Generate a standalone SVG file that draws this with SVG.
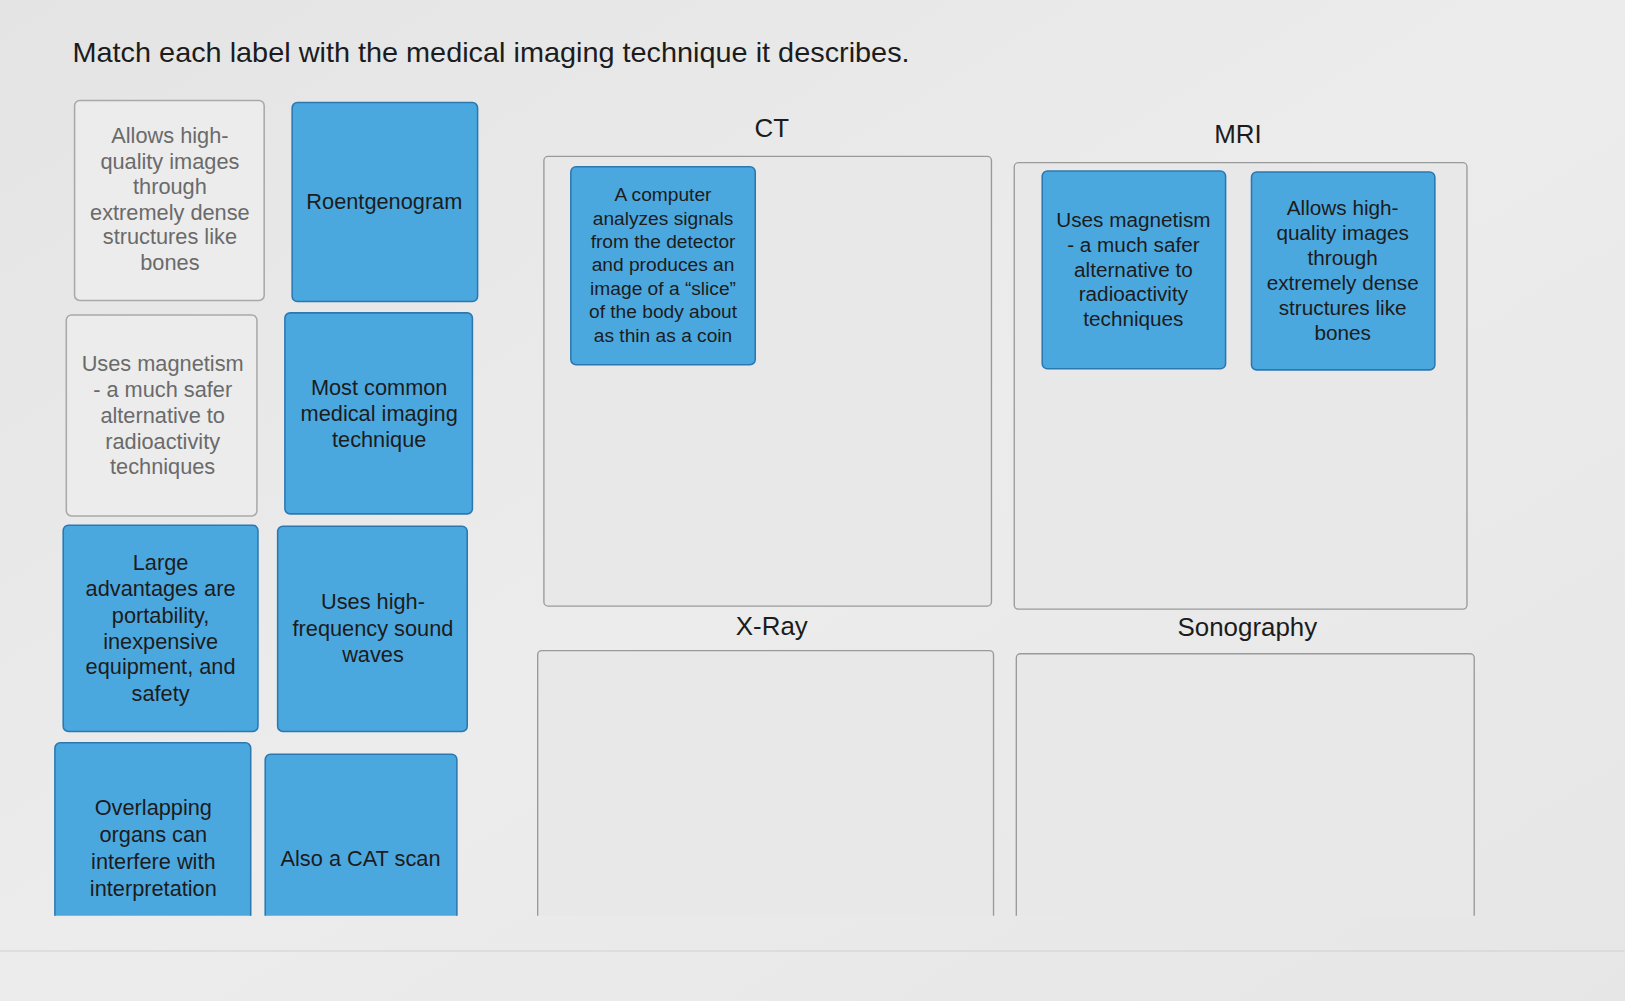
<svg xmlns="http://www.w3.org/2000/svg" width="1625" height="1001" viewBox="0 0 1625 1001">
<style>
text{font-family:"Liberation Sans",Arial,sans-serif;fill:#1c1c1c;text-anchor:middle}
.t{font-size:21px}
.g{fill:#6a6a6a}
.blue{fill:#4ba8df;stroke:#2b78b0;stroke-width:1.5}
.white{fill:#ececec;stroke:#a9a9a9;stroke-width:1.5}
.zone{fill:#e8e8e8;stroke:#9a9a9a;stroke-width:1.3}
.lbl{font-size:25px}
</style>
<defs><linearGradient id="bg" x1="0" y1="0" x2="1" y2="1"><stop offset="0" stop-color="#e4e4e4"/><stop offset="0.5" stop-color="#ececec"/><stop offset="1" stop-color="#e6e6e6"/></linearGradient></defs>
<rect width="1625" height="1001" fill="url(#bg)"/>
<g transform="scale(1.036)">
<line x1="0" y1="918" x2="1568" y2="918" stroke="#cfcfcf"/>
<text x="70" y="60" textLength="808" lengthAdjust="spacingAndGlyphs" style="font-size:26px;text-anchor:start">Match each label with the medical imaging technique it describes.</text>
<g id="zone-ct"><text class="lbl" x="745" y="132">CT</text><rect class="zone" x="525" y="151" width="432" height="434" rx="4"/></g>
<g id="zone-mri"><text class="lbl" x="1195" y="138">MRI</text><rect class="zone" x="979" y="157" width="437" height="431" rx="4"/></g>
<g id="zone-xray"><text class="lbl" x="745" y="613">X-Ray</text><path class="zone" d="M519 884 V632 a4 4 0 0 1 4 -4 H955 a4 4 0 0 1 4 4 V884"/></g>
<g id="zone-sono"><text class="lbl" x="1204" y="614">Sonography</text><path class="zone" d="M981 884 V635 a4 4 0 0 1 4 -4 H1419 a4 4 0 0 1 4 4 V884"/></g>
<g id="n1"><rect class="white" x="72" y="97" width="183" height="193" rx="5"/><text class="t g"><tspan x="164" y="138">Allows high-</tspan><tspan x="164" y="163">quality images</tspan><tspan x="164" y="187">through</tspan><tspan x="164" y="212">extremely dense</tspan><tspan x="164" y="236">structures like</tspan><tspan x="164" y="261">bones</tspan></text></g>
<g id="n2"><rect class="blue" x="282" y="99" width="179" height="192" rx="5"/><text class="t" x="371" y="202">Roentgenogram</text></g>
<g id="n3"><rect class="white" x="64" y="304" width="184" height="194" rx="5"/><text class="t g"><tspan x="157" y="358">Uses magnetism</tspan><tspan x="157" y="383">- a much safer</tspan><tspan x="157" y="408">alternative to</tspan><tspan x="157" y="433">radioactivity</tspan><tspan x="157" y="458">techniques</tspan></text></g>
<g id="n4"><rect class="blue" x="275" y="302" width="181" height="194" rx="5"/><text class="t"><tspan x="366" y="381">Most common</tspan><tspan x="366" y="406">medical imaging</tspan><tspan x="366" y="431">technique</tspan></text></g>
<g id="n5"><rect class="blue" x="61" y="507" width="188" height="199" rx="5"/><text class="t"><tspan x="155" y="550">Large</tspan><tspan x="155" y="575">advantages are</tspan><tspan x="155" y="601">portability,</tspan><tspan x="155" y="626">inexpensive</tspan><tspan x="155" y="651">equipment, and</tspan><tspan x="155" y="677">safety</tspan></text></g>
<g id="n6"><rect class="blue" x="268" y="508" width="183" height="198" rx="5"/><text class="t"><tspan x="360" y="588">Uses high-</tspan><tspan x="360" y="614">frequency sound</tspan><tspan x="360" y="639">waves</tspan></text></g>
<g id="n7"><path class="blue" d="M53 884 V722 a5 5 0 0 1 5 -5 H237 a5 5 0 0 1 5 5 V884"/><text class="t"><tspan x="148" y="787">Overlapping</tspan><tspan x="148" y="813">organs can</tspan><tspan x="148" y="839">interfere with</tspan><tspan x="148" y="865">interpretation</tspan></text></g>
<g id="n8"><path class="blue" d="M256 884 V733 a5 5 0 0 1 5 -5 H436 a5 5 0 0 1 5 5 V884"/><text class="t" x="348" y="836">Also a CAT scan</text></g>
<g id="n9"><rect class="blue" x="551" y="161" width="178" height="191" rx="5"/><text style="font-size:18.5px"><tspan x="640" y="194">A computer</tspan><tspan x="640" y="217">analyzes signals</tspan><tspan x="640" y="239">from the detector</tspan><tspan x="640" y="262">and produces an</tspan><tspan x="640" y="285">image of a “slice”</tspan><tspan x="640" y="307">of the body about</tspan><tspan x="640" y="330">as thin as a coin</tspan></text></g>
<g id="n10"><rect class="blue" x="1006" y="165" width="177" height="191" rx="5"/><text class="t" style="font-size:20px"><tspan x="1094" y="219">Uses magnetism</tspan><tspan x="1094" y="243">- a much safer</tspan><tspan x="1094" y="267">alternative to</tspan><tspan x="1094" y="291">radioactivity</tspan><tspan x="1094" y="315">techniques</tspan></text></g>
<g id="n11"><rect class="blue" x="1208" y="166" width="177" height="191" rx="5"/><text class="t" style="font-size:20px"><tspan x="1296" y="208">Allows high-</tspan><tspan x="1296" y="232">quality images</tspan><tspan x="1296" y="256">through</tspan><tspan x="1296" y="280">extremely dense</tspan><tspan x="1296" y="304">structures like</tspan><tspan x="1296" y="328">bones</tspan></text></g>
</g>
</svg>
